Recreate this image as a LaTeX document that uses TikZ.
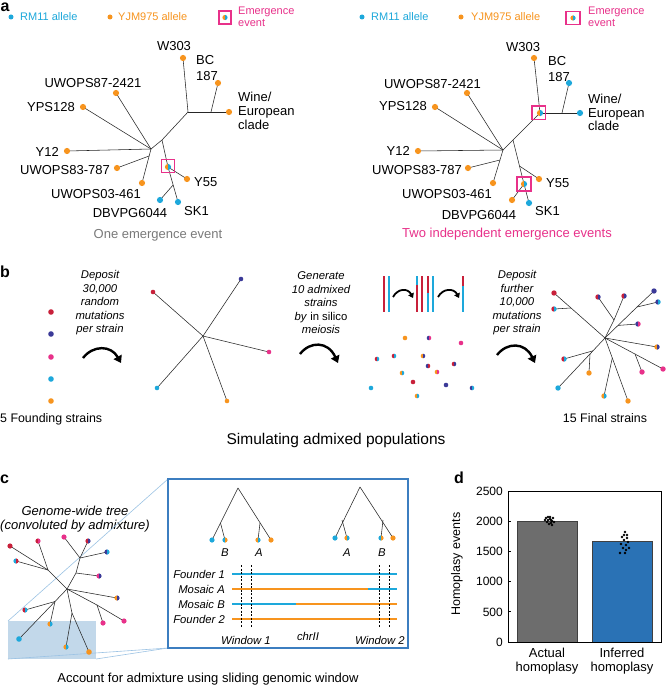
\documentclass[tikz,border=0pt]{standalone}
\usepackage{fontspec}
\setmainfont{Liberation Sans}
\usetikzlibrary{arrows.meta}
\definecolor{kb}{HTML}{1DA8DB}
\definecolor{ko}{HTML}{F7941E}
\definecolor{km}{HTML}{E8318A}
\definecolor{kr}{HTML}{C8203A}
\definecolor{kp}{HTML}{3B3A98}
\definecolor{kg}{HTML}{7A7A7A}
\definecolor{boxblue}{HTML}{3C7EC0}
\definecolor{shadeblue}{HTML}{BCD4E8}
\definecolor{zoomline}{HTML}{9CC3E4}
\definecolor{bargray}{HTML}{6D6D6D}
\definecolor{barblue}{HTML}{2A72B5}
\newcommand{\myfL}{\fontsize{13}{15}\selectfont}
\newcommand{\myfS}{\fontsize{11}{12}\selectfont}
\newcommand{\myfI}{\fontsize{11.3}{13.5}\selectfont}
\newcommand{\myfT}{\fontsize{15.5}{18}\selectfont}
\newcommand{\myfM}{\fontsize{12.4}{14}\selectfont}
\newcommand{\myfP}{\fontsize{16}{18}\selectfont\bfseries}
\newcommand{\mydot}[3]{\fill[#3] (#1) circle (#2);}
\newcommand{\mysplit}[4]{\fill[#3] (#1) ++(0,#2) arc (90:270:#2) -- cycle; \fill[#4] (#1) ++(0,-#2) arc (-90:90:#2) -- cycle;}
\begin{document}
\begin{tikzpicture}[x=1pt,y=-1pt,
  tl/.style={inner sep=0pt, font=\myfL},
  leg/.style={inner sep=0pt, font=\myfS},
  itx/.style={inner sep=0pt, font=\myfI\itshape, align=center},
  itl/.style={inner sep=0pt, font=\myfI\itshape},
  pl/.style={inner sep=0pt, font=\myfP},
  tick/.style={inner sep=0pt, font=\fontsize{12}{14}\selectfont},
  edge/.style={line width=0.55pt, draw=black!85},
  ebox/.style={draw=km, line width=1.1pt},
  bigarrow/.style={line width=2.4pt, -{Triangle[length=7pt,width=9pt]}},
  smallarrow/.style={line width=1.8pt, -{Triangle[length=4.5pt,width=6pt]}},
  chrom/.style={line width=2.3pt},
  chline/.style={line width=2pt},
  dashv/.style={line width=0.45pt, dash pattern=on 2pt off 1.5pt}]
\useasboundingbox (0,0) rectangle (666,685);
\fill[white] (0,0) rectangle (666,685);

% ================= Panel a =================
\node[pl, anchor=base west] (pa) at (0.5,12) {a};
% legend left
\coordinate (lgL1) at (11,17); \mydot{lgL1}{2.5}{kb}
\node[leg, anchor=base west, text=kb] (lgL1t) at (20,21) {RM11 allele};
\coordinate (lgL2) at (110,17); \mydot{lgL2}{2.5}{ko}
\node[leg, anchor=base west, text=ko] (lgL2t) at (118,21) {YJM975 allele};
\coordinate (lgL3) at (225,17.5);
\draw[ebox] (219,11) rectangle (231,24);
\mysplit{lgL3}{2.6}{ko}{kb}
\node[leg, anchor=base west, text=km] (lgL3a) at (238,15) {Emergence};
\node[leg, anchor=base west, text=km] (lgL3b) at (238,27) {event};
% legend right
\coordinate (lgR1) at (362,17); \mydot{lgR1}{2.5}{kb}
\node[leg, anchor=base west, text=kb] (lgR1t) at (371,21) {RM11 allele};
\coordinate (lgR2) at (461,17); \mydot{lgR2}{2.5}{ko}
\node[leg, anchor=base west, text=ko] (lgR2t) at (471,21) {YJM975 allele};
\coordinate (lgR3) at (573,18);
\draw[ebox] (566,11.5) rectangle (580,24.5);
\mysplit{lgR3}{2.6}{ko}{kb}
\node[leg, anchor=base west, text=km] (lgR3a) at (588,15) {Emergence};
\node[leg, anchor=base west, text=km] (lgR3b) at (588,27) {event};

% ---- left tree ----
\coordinate (LW) at (183,58);
\coordinate (LBC) at (218,83);
\coordinate (LWine) at (229,112);
\coordinate (LNin) at (188,112);
\coordinate (LNbc) at (211,112);
\coordinate (LJ) at (162,140);
\coordinate (LC) at (151,149);
\coordinate (LU87) at (116,93);
\coordinate (LYPS) at (83,107);
\coordinate (LY12) at (67,151);
\coordinate (LNu) at (149.1,156);
\coordinate (LU83) at (117,168);
\coordinate (LU03) at (142,183);
\coordinate (LE) at (168,167);
\coordinate (LY55) at (187,179);
\coordinate (LNd) at (173.1,185);
\coordinate (LSK1) at (178,202);
\coordinate (LDB) at (160,200);
\draw[edge] (LW) -- (LNin);
\draw[edge] (LNin) -- (LWine);
\draw[edge] (LNbc) -- (LBC);
\draw[edge] (LNin) -- (LJ);
\draw[edge] (LJ) -- (LC);
\draw[edge] (LC) -- (LU87);
\draw[edge] (LC) -- (LYPS);
\draw[edge] (LC) -- (LY12);
\draw[edge] (LC) -- (LU03);
\draw[edge] (LNu) -- (LU83);
\draw[edge] (LJ) -- (LE);
\draw[edge] (LE) -- (LSK1);
\draw[edge] (LE) -- (LY55);
\draw[edge] (LNd) -- (LDB);
\foreach \p in {LW,LBC,LWine,LU87,LYPS,LY12,LU83,LU03,LY55} {\mydot{\p}{3.1}{ko}}
\foreach \p in {LSK1,LDB} {\mydot{\p}{3.1}{kb}}
\draw[ebox] (161.5,159.5) rectangle (174.5,172.5);
\mysplit{LE}{3.1}{ko}{kb}
\node[tl, anchor=base] (lW303) at (174,50.7) {W303};
\node[tl, anchor=base west] (lBC) at (196,64.7) {BC};
\node[tl, anchor=base west] (l187) at (196,80.7) {187};
\node[tl, anchor=base west] (lWine1) at (238,101.7) {Wine/};
\node[tl, anchor=base west] (lWine2) at (238,115.7) {European};
\node[tl, anchor=base west] (lWine3) at (238,129.7) {clade};
\node[tl, anchor=base] (lU87) at (93,87.7) {UWOPS87-2421};
\node[tl, anchor=base east] (lYPS) at (75,111.7) {YPS128};
\node[tl, anchor=base east] (lY12) at (59,156.7) {Y12};
\node[tl, anchor=base east] (lU83) at (110,174.7) {UWOPS83-787};
\node[tl, anchor=base] (lU03) at (96,198.7) {UWOPS03-461};
\node[tl, anchor=base] (lDB) at (130,217.7) {DBVPG6044};
\node[tl, anchor=base west] (lSK1) at (184,215.7) {SK1};
\node[tl, anchor=base west] (lY55) at (194,186.7) {Y55};
\node[tl, anchor=base, text=kg] (lone) at (158,238.7) {One emergence event};

% ---- right tree ----
\coordinate (RW) at (534,58);
\coordinate (RBC) at (569,83);
\coordinate (RWine) at (580,113);
\coordinate (RE1) at (540,113);
\coordinate (RNbc) at (562,113);
\coordinate (RJ) at (513,140);
\coordinate (RC) at (503,150);
\coordinate (RU87) at (467,93);
\coordinate (RYPS) at (435,107);
\coordinate (RY12) at (418,151);
\coordinate (RNu) at (500,160);
\coordinate (RU83) at (468,168);
\coordinate (RU03) at (493,183);
\coordinate (RE2) at (524,184);
\coordinate (RNy) at (519.4,166);
\coordinate (RY55) at (539,179);
\coordinate (RSK1) at (529,203);
\coordinate (RDB) at (512,200);
\draw[edge] (RW) -- (RE1);
\draw[edge] (RE1) -- (RWine);
\draw[edge] (RNbc) -- (RBC);
\draw[edge] (RE1) -- (RJ);
\draw[edge] (RJ) -- (RC);
\draw[edge] (RC) -- (RU87);
\draw[edge] (RC) -- (RYPS);
\draw[edge] (RC) -- (RY12);
\draw[edge] (RC) -- (RU03);
\draw[edge] (RNu) -- (RU83);
\draw[edge] (RJ) -- (RE2);
\draw[edge] (RNy) -- (RY55);
\draw[edge] (RE2) -- (RSK1);
\draw[edge] (RE2) -- (RDB);
\foreach \p in {RW,RU87,RYPS,RY12,RU83,RU03,RY55,RDB} {\mydot{\p}{3.1}{ko}}
\foreach \p in {RBC,RWine,RSK1} {\mydot{\p}{3.1}{kb}}
\draw[ebox] (532,106) rectangle (545.5,119.5);
\mysplit{RE1}{3.1}{ko}{kb}
\draw[ebox] (517,177) rectangle (531,191);
\mysplit{RE2}{3.1}{ko}{kb}
\node[tl, anchor=base] (rW303) at (523,51.7) {W303};
\node[tl, anchor=base west] (rBC) at (548,65.7) {BC};
\node[tl, anchor=base west] (r187) at (548,81.7) {187};
\node[tl, anchor=base west] (rWine1) at (588,103.7) {Wine/};
\node[tl, anchor=base west] (rWine2) at (588,117.7) {European};
\node[tl, anchor=base west] (rWine3) at (588,130.7) {clade};
\node[tl, anchor=base] (rU87) at (432.5,88.7) {UWOPS87-2421};
\node[tl, anchor=base east] (rYPS) at (427,110.7) {YPS128};
\node[tl, anchor=base east] (rY12) at (410,155.7) {Y12};
\node[tl, anchor=base east] (rU83) at (462,174.7) {UWOPS83-787};
\node[tl, anchor=base] (rU03) at (447,198.7) {UWOPS03-461};
\node[tl, anchor=base] (rDB) at (479,219.7) {DBVPG6044};
\node[tl, anchor=base west] (rSK1) at (535,215.7) {SK1};
\node[tl, anchor=base west] (rY55) at (546,187.7) {Y55};
\node[tl, anchor=base, text=km] (rtwo) at (507,237.7) {Two independent emergence events};

% ================= Panel b =================
\node[pl, anchor=base west] (pb) at (0,277) {b};
\coordinate (fd1) at (51,312); \mydot{fd1}{2.8}{kr}
\coordinate (fd2) at (51,334); \mydot{fd2}{2.8}{kp}
\coordinate (fd3) at (51,357); \mydot{fd3}{2.8}{km}
\coordinate (fd4) at (51,379); \mydot{fd4}{2.8}{kb}
\coordinate (fd5) at (51,401); \mydot{fd5}{2.8}{ko}
\node[inner sep=0pt, font=\myfM, anchor=base west] (lfound) at (0,422.3) {5 Founding strains};
\node[itx] (txt1) at (100,303) {Deposit\\30,000\\random\\mutations\\per strain};
\coordinate (ar1s) at (83,358); \coordinate (ar1e) at (121,363);
\draw[bigarrow] (ar1s) .. controls (93,345) and (111,345) .. (ar1e);
% star tree
\coordinate (tC) at (203,336);
\coordinate (t1) at (153,292);
\coordinate (t2) at (241,279);
\coordinate (t3) at (269,352);
\coordinate (t4) at (157,388);
\coordinate (t5) at (227,401);
\foreach \p in {t1,t2,t3,t4,t5} {\draw[edge] (tC) -- (\p);}
\mydot{t1}{2.3}{kr} \mydot{t2}{2.3}{kp} \mydot{t3}{2.3}{km} \mydot{t4}{2.3}{kb} \mydot{t5}{2.3}{ko}
\node[itx] (txt2) at (321,303) {Generate\\10 admixed\\strains\\by \textup{in silico}\\meiosis};
\coordinate (ar2s) at (300,354); \coordinate (ar2e) at (338,363);
\draw[bigarrow] (ar2s) .. controls (310,341) and (328,341) .. (ar2e);
% chromosomes
\draw[chrom, kr] (384,276) -- (384,312);
\draw[chrom, kb] (389,276) -- (389,312);
\coordinate (sa1s) at (393,297); \coordinate (sa1e) at (413,298);
\draw[smallarrow] (sa1s) .. controls (398,288) and (408,288) .. (sa1e);
\draw[chrom, kb] (417,276) -- (417,285); \draw[chrom, kr] (417,285) -- (417,312);
\draw[chrom, kr] (422,276) -- (422,312);
\draw[chrom, kr] (428,276) -- (428,293); \draw[chrom, kb] (428,293) -- (428,312);
\draw[chrom, kb] (433,276) -- (433,312);
\coordinate (sa2s) at (438,297); \coordinate (sa2e) at (459,298);
\draw[smallarrow] (sa2s) .. controls (443,288) and (454,288) .. (sa2e);
\draw[chrom, kr] (463,276) -- (463,286); \draw[chrom, kb] (463,286) -- (463,312);
% admixed dots
\coordinate (s1) at (405,338); \mydot{s1}{2.3}{ko}
\coordinate (s2) at (429,338); \mysplit{s2}{2.3}{kp}{km}
\coordinate (s3) at (461,343); \mydot{s3}{2.3}{km}
\coordinate (s4) at (377,359); \mysplit{s4}{2.3}{kr}{kb}
\coordinate (s5) at (394,356); \mysplit{s5}{2.3}{kr}{kb}
\coordinate (s6) at (423,356); \mysplit{s6}{2.3}{ko}{kp}
\coordinate (s7) at (428,366); \mysplit{s7}{2.3}{kp}{kr}
\coordinate (s8) at (454,364); \mysplit{s8}{2.3}{kr}{kp}
\coordinate (s9) at (402,373); \mysplit{s9}{2.3}{ko}{kb}
\coordinate (s10) at (437,372); \mysplit{s10}{2.3}{ko}{km}
\coordinate (s11) at (413,382); \mydot{s11}{2.3}{kr}
\coordinate (s12) at (446,385); \mydot{s12}{2.3}{kp}
\coordinate (s13) at (472,388); \mysplit{s13}{2.3}{kp}{kb}
\coordinate (s14) at (371,388); \mydot{s14}{2.3}{kb}
\coordinate (s15) at (417,396); \mysplit{s15}{2.3}{ko}{kb}
\node[itx] (txt3) at (517,303) {Deposit\\further\\10,000\\mutations\\per strain};
\coordinate (ar3s) at (497,355); \coordinate (ar3e) at (535,363);
\draw[bigarrow] (ar3s) .. controls (507,342) and (525,342) .. (ar3e);
% final tree
\coordinate (FC) at (605,338);
\coordinate (Fa) at (571,308);
\coordinate (Fb) at (614,320);
\coordinate (Fc) at (637,307);
\coordinate (Fy) at (618,325.4);
\coordinate (Fz) at (635,354);
\coordinate (Fw) at (612.3,358);
\coordinate (Fv) at (593,350.8);
\coordinate (Fv2) at (590,354);
\coordinate (f1) at (554,293);
\coordinate (f2) at (554,309);
\coordinate (f3) at (598,297);
\coordinate (f4) at (624,296);
\coordinate (f5) at (654,291);
\coordinate (f6) at (658,302);
\coordinate (f7) at (638,324);
\coordinate (f8) at (657,347);
\coordinate (f9) at (663,369);
\coordinate (f10) at (642,372);
\coordinate (f11) at (564,359);
\coordinate (f12) at (589,373);
\coordinate (f13) at (558,388);
\coordinate (f14) at (604,396);
\coordinate (f15) at (628,401);
\draw[edge] (FC) -- (f1); \draw[edge] (Fa) -- (f2);
\draw[edge] (FC) -- (Fb); \draw[edge] (Fb) -- (f3); \draw[edge] (Fb) -- (f4);
\draw[edge] (FC) -- (Fc); \draw[edge] (Fc) -- (f5); \draw[edge] (Fc) -- (f6);
\draw[edge] (Fy) -- (f7);
\draw[edge] (FC) -- (f8);
\draw[edge] (FC) -- (f9); \draw[edge] (Fz) -- (f10);
\draw[edge] (FC) -- (f15); \draw[edge] (Fw) -- (f14);
\draw[edge] (FC) -- (f13); \draw[edge] (Fv) -- (f11); \draw[edge] (Fv2) -- (f12);
\mydot{f1}{2.7}{kr}
\mysplit{f2}{2.7}{kr}{kb}
\mysplit{f3}{2.7}{kr}{kp}
\mysplit{f4}{2.7}{kr}{kp}
\mydot{f5}{2.7}{kp}
\mysplit{f6}{2.7}{kp}{kb}
\mysplit{f7}{2.7}{kp}{km}
\mysplit{f8}{2.7}{ko}{kp}
\mydot{f9}{2.7}{km}
\mysplit{f10}{2.7}{km}{km}
\mysplit{f11}{2.7}{kr}{kb}
\mydot{f12}{2.7}{ko}
\mydot{f13}{2.7}{kb}
\mysplit{f14}{2.7}{ko}{kb}
\mydot{f15}{2.7}{ko}
\node[inner sep=0pt, font=\myfM, anchor=base] (lfinal) at (605,422.3) {15 Final strains};
\node[inner sep=0pt, font=\myfT, anchor=base] (lsim) at (336,444.6) {Simulating admixed populations};

% ================= Panel c =================
\node[pl, anchor=base west] (pc) at (0,483) {c};
\node[inner sep=0pt, font=\myfL\itshape, anchor=base] (lgw1) at (75,515.7) {Genome-wide tree};
\node[inner sep=0pt, font=\myfL\itshape, anchor=base] (lgw2) at (75,529.7) {(convoluted by admixture)};
\fill[shadeblue, opacity=0.9] (8,621) rectangle (96,659);
\coordinate (zrTL) at (8,621); \coordinate (zrBL) at (8,659); \coordinate (zrBR) at (96,659);
\coordinate (zbTL) at (168,479); \coordinate (zbBL) at (168,648);
\draw[zoomline, line width=0.6pt] (zrTL) -- (zbTL);
\draw[zoomline, line width=0.6pt] (zrBL) -- (zbBL);
\draw[zoomline, line width=0.6pt] (zrBR) -- (zbBL);
% genome-wide tree
\coordinate (C0) at (67,589);
\coordinate (T1) at (76,573);
\coordinate (T2) at (80,558);
\coordinate (T3) at (48,570);
\coordinate (CM) at (97,605);
\coordinate (CL) at (55,601.5);
\coordinate (CD) at (72,613);
\coordinate (c1) at (16,561);
\coordinate (c2) at (10,546);
\coordinate (c3) at (38,541);
\coordinate (c4) at (64,537);
\coordinate (c5) at (88,541);
\coordinate (c6) at (107,552);
\coordinate (c7) at (99,576);
\coordinate (c8) at (117,598);
\coordinate (c9) at (103,623);
\coordinate (c10) at (124,621);
\coordinate (c11) at (25,610);
\coordinate (c12) at (50,624);
\coordinate (c13) at (19,639);
\coordinate (c14) at (66,647);
\coordinate (c15) at (89,652);
\draw[edge] (C0) -- (T1); \draw[edge] (T1) -- (c7); \draw[edge] (T1) -- (T2);
\draw[edge] (T2) -- (c4); \draw[edge] (T2) -- (c5); \draw[edge] (T2) -- (c6);
\draw[edge] (C0) -- (T3); \draw[edge] (T3) -- (c1); \draw[edge] (T3) -- (c2); \draw[edge] (T3) -- (c3);
\draw[edge] (C0) -- (c8);
\draw[edge] (C0) -- (CM); \draw[edge] (CM) -- (c9); \draw[edge] (CM) -- (c10);
\draw[edge] (C0) -- (c13); \draw[edge] (CL) -- (c11); \draw[edge] (CL) -- (c12);
\draw[edge] (C0) -- (CD); \draw[edge] (CD) -- (c14); \draw[edge] (CD) -- (c15);
\mysplit{c1}{2.6}{kb}{kr}
\mydot{c2}{2.6}{kr}
\mysplit{c3}{2.6}{kr}{km}
\mydot{c4}{2.6}{km}
\mysplit{c5}{2.6}{kr}{kp}
\mysplit{c6}{2.6}{kp}{kb}
\mysplit{c7}{2.6}{km}{kp}
\mysplit{c8}{2.6}{ko}{kp}
\mydot{c9}{2.6}{km}
\mydot{c10}{2.6}{km}
\mysplit{c11}{2.6}{kr}{kb}
\mysplit{c12}{2.6}{ko}{kb}
\mydot{c13}{2.8}{kb}
\mysplit{c14}{2.6}{ko}{kb}
\mydot{c15}{2.8}{ko}
% zoom box
\draw[boxblue, line width=1.6pt] (168,479) rectangle (408,648);
% window trees
\coordinate (wAr) at (238,488);
\coordinate (wAl) at (220.5,523);
\coordinate (wArt) at (260,523);
\coordinate (wA1) at (212,540);
\coordinate (wA2) at (225,540);
\coordinate (wA3) at (258,540);
\coordinate (wA4) at (271,540);
\draw[edge] (wAr) -- (wA1); \draw[edge] (wAl) -- (wA2);
\draw[edge] (wAr) -- (wA4); \draw[edge] (wArt) -- (wA3);
\mydot{wA1}{2.6}{kb} \mysplit{wA2}{2.6}{kb}{ko} \mysplit{wA3}{2.6}{ko}{kb} \mydot{wA4}{2.6}{ko}
\coordinate (wBr) at (360,487);
\coordinate (wBl) at (342,520);
\coordinate (wBrt) at (383,520);
\coordinate (wB1) at (335,538);
\coordinate (wB2) at (347,538);
\coordinate (wB3) at (381,538);
\coordinate (wB4) at (393,538);
\draw[edge] (wBr) -- (wB1); \draw[edge] (wBl) -- (wB2);
\draw[edge] (wBr) -- (wB4); \draw[edge] (wBrt) -- (wB3);
\mydot{wB1}{2.6}{kb} \mysplit{wB2}{2.6}{ko}{kb} \mysplit{wB3}{2.6}{kb}{ko} \mydot{wB4}{2.6}{ko}
\node[itl, anchor=base] (lwB1) at (225,556.1) {B};
\node[itl, anchor=base] (lwA1) at (259,556.1) {A};
\node[itl, anchor=base] (lwA2) at (347,556.1) {A};
\node[itl, anchor=base] (lwB2) at (382,556.1) {B};
% chromosome lines
\draw[chline, kb] (232,574) -- (397,574);
\draw[chline, ko] (232,589) -- (368,589); \draw[chline, kb] (368,589) -- (397,589);
\draw[chline, kb] (232,604) -- (296,604); \draw[chline, ko] (296,604) -- (397,604);
\draw[chline, ko] (232,619) -- (397,619);
\foreach \xx in {241,251,379,389} {\draw[dashv] (\xx,565) -- (\xx,628);}
\node[itl, anchor=base east] (lf1) at (225,578.1) {Founder 1};
\node[itl, anchor=base east] (lma) at (225,593.1) {Mosaic A};
\node[itl, anchor=base east] (lmb) at (225,608.1) {Mosaic B};
\node[itl, anchor=base east] (lf2) at (225,623.1) {Founder 2};
\node[itl, anchor=base] (lw1) at (246,644.1) {Window 1};
\node[itl, anchor=base] (lchr) at (308,640.1) {chrII};
\node[itl, anchor=base] (lw2) at (380,644.1) {Window 2};
\node[tl, anchor=base] (lacc) at (208,682.7) {Account for admixture using sliding genomic window};

% ================= Panel d =================
\node[pl, anchor=base west] (pd) at (454,483) {d};
\fill[bargray] (517,521.2) rectangle (577,642);
\draw[black!75, line width=0.6pt] (517,521.2) rectangle (577,642);
\fill[barblue] (592,541.7) rectangle (652,642);
\draw[black!75, line width=0.6pt] (592,541.7) rectangle (652,642);
\draw[line width=0.9pt] (508,491) rectangle (661,642);
\foreach \v/\yy in {0/642,500/611.8,1000/581.6,1500/551.4,2000/521.2,2500/491} {
  \draw[line width=0.7pt] (508,\yy) -- (511,\yy);
  \node[tick, anchor=base east] (tk\v) at (503,\yy+4.3) {\v};
}
\foreach \px/\py in {546/518,548/520,550/519,552/521,547/522,551/523,553/518,549/524,545/520,552/525,550/517,554/522,548/517,551/520}
  {\fill (\px,\py) circle (1.3);}
\foreach \px/\py in {625/532,627/535,622/537,624/540,628/542,621/544,626/545,623/548,629/548,620/553,625/553,627/538,624/535,626/550}
  {\fill (\px,\py) circle (1.3);}
\node[inner sep=0pt, font=\fontsize{12.5}{14}\selectfont, rotate=90] (ylab) at (457,564) {Homoplasy events};
\node[tl, anchor=base] (xl1a) at (547,657.7) {Actual};
\node[tl, anchor=base] (xl1b) at (547,671.5) {homoplasy};
\node[tl, anchor=base] (xl2a) at (622,657.7) {Inferred};
\node[tl, anchor=base] (xl2b) at (622,671.5) {homoplasy};
\end{tikzpicture}
\end{document}
